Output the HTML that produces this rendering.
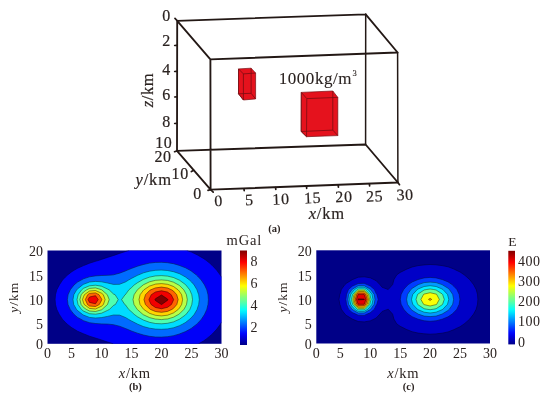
<!DOCTYPE html>
<html><head><meta charset="utf-8"><title>Figure</title>
<style>html,body{margin:0;padding:0;background:#fff}svg{display:block}</style></head>
<body>
<svg width="550" height="400" viewBox="0 0 550 400">
<rect width="550" height="400" fill="#fff"/>
<clipPath id="cpb"><rect x="47.5" y="250.5" width="174.0" height="93.30000000000001"/></clipPath>
<rect x="47.5" y="250.5" width="174.0" height="93.30000000000001" fill="#000087"/>
<g clip-path="url(#cpb)">
<path fill="#0000f9" stroke="#0000f9" stroke-width="0.3" fill-rule="evenodd" d="M101.5,340.0 107.5,342.0 113.2,343.8 113.5,343.8 119.5,343.8 125.5,343.8 131.5,343.8 137.5,343.8 143.5,343.8 149.5,343.8 155.5,343.8 161.5,343.8 167.5,343.8 173.5,343.8 179.5,343.8 185.5,343.8 191.5,343.8 197.5,343.8 198.6,343.8 203.5,341.0 206.4,338.9 209.5,336.4 212.3,334.0 215.5,330.5 216.8,329.1 220.4,324.2 221.5,322.2 221.5,319.2 221.5,314.3 221.5,309.4 221.5,304.5 221.5,299.6 221.5,294.7 221.5,289.8 221.5,284.9 221.5,280.0 221.5,277.2 220.3,275.1 216.6,270.1 215.5,268.9 212.0,265.2 209.5,263.0 206.1,260.3 203.5,258.5 198.2,255.4 197.5,255.0 191.5,252.1 186.9,250.5 185.5,250.5 179.5,250.5 173.5,250.5 167.5,250.5 161.5,250.5 155.5,250.5 149.5,250.5 143.5,250.5 137.5,250.5 131.5,250.5 129.0,250.5 125.5,251.5 119.5,253.4 113.9,255.4 113.5,255.5 107.5,257.4 101.5,259.4 99.0,260.3 95.5,261.3 89.5,263.2 84.6,265.2 83.5,265.6 77.5,268.3 74.4,270.1 71.5,271.9 67.5,275.1 65.5,276.9 62.6,280.0 59.5,284.7 59.4,284.9 56.8,289.8 55.5,294.7 55.1,299.6 55.5,304.5 56.8,309.4 59.2,314.3 59.5,314.7 62.4,319.2 65.5,322.5 67.3,324.2 71.5,327.5 74.1,329.1 77.5,331.2 83.5,333.8 84.1,334.0 89.5,336.2 95.5,338.1 98.3,338.9 101.5,340.0Z"/>
<path fill="#006bff" stroke="#006bff" stroke-width="0.3" fill-rule="evenodd" d="M143.5,335.0 149.5,336.3 155.5,337.0 161.5,337.1 167.5,336.7 173.5,335.7 179.4,334.0 179.5,333.9 185.5,331.6 190.1,329.1 191.5,328.2 196.7,324.2 197.5,323.4 201.4,319.2 203.5,316.0 204.6,314.3 206.8,309.4 208.0,304.5 208.4,299.6 208.0,294.7 206.8,289.8 204.5,284.9 203.5,283.4 201.2,280.0 197.5,276.0 196.5,275.1 191.5,271.2 189.7,270.1 185.5,267.8 179.5,265.5 178.6,265.2 173.5,263.7 167.5,262.7 161.5,262.3 155.5,262.4 149.5,263.1 143.5,264.5 140.9,265.2 137.5,266.2 131.5,268.4 127.4,270.1 125.5,270.9 119.5,273.2 113.5,274.8 111.0,275.1 107.5,275.3 101.5,275.5 95.5,275.9 89.5,276.8 83.5,278.8 81.3,280.0 77.5,282.1 74.1,284.9 71.5,288.2 70.3,289.8 68.1,294.7 67.4,299.6 68.0,304.5 70.2,309.4 71.5,311.2 73.9,314.3 77.5,317.4 80.9,319.2 83.5,320.7 89.5,322.7 95.5,323.5 101.5,323.9 107.5,324.1 108.8,324.2 113.5,324.7 119.5,326.2 125.5,328.5 126.9,329.1 131.5,331.0 137.5,333.2 140.2,334.0 143.5,335.0Z"/>
<path fill="#00dcff" stroke="#00dcff" stroke-width="0.3" fill-rule="evenodd" d="M161.5,329.3 164.8,329.1 167.5,328.9 173.5,327.8 179.5,325.7 182.5,324.2 185.5,322.5 189.7,319.2 191.5,317.5 194.3,314.3 197.1,309.4 197.5,308.0 198.7,304.5 199.3,299.6 198.7,294.7 197.5,291.4 197.0,289.8 194.1,284.9 191.5,281.9 189.5,280.0 185.5,277.0 182.1,275.1 179.5,273.7 173.5,271.7 167.5,270.5 161.9,270.1 161.5,270.1 160.7,270.1 155.5,270.3 149.5,271.2 143.5,272.8 138.1,275.1 137.5,275.3 131.5,278.4 128.6,280.0 125.5,281.9 119.5,284.3 113.5,284.4 107.5,283.0 101.5,281.8 95.5,281.4 89.5,282.0 83.5,284.3 82.6,284.9 77.5,288.9 76.7,289.8 73.8,294.7 73.0,299.6 73.7,304.5 76.5,309.4 77.5,310.5 82.3,314.3 83.5,315.1 89.5,317.4 95.5,318.0 101.5,317.6 107.5,316.4 113.5,315.0 119.5,315.1 125.5,317.5 128.3,319.2 131.5,321.0 137.5,324.1 137.7,324.2 143.5,326.6 149.5,328.2 155.5,329.1 155.5,329.1 161.5,329.3Z"/>
<path fill="#4fffb0" stroke="#4fffb0" stroke-width="0.3" fill-rule="evenodd" d="M143.5,320.1 149.5,322.3 155.5,323.5 161.5,323.8 167.5,323.3 173.5,321.9 179.5,319.2 179.5,319.2 185.5,314.9 186.1,314.3 189.9,309.4 191.5,305.3 191.8,304.5 192.5,299.6 191.8,294.7 191.5,294.0 189.7,289.8 185.8,284.9 185.5,284.6 179.5,280.2 179.1,280.0 173.5,277.5 167.5,276.1 161.5,275.6 155.5,275.9 149.5,277.1 143.5,279.3 142.2,280.0 137.5,282.7 134.3,284.9 131.5,287.6 128.9,289.8 125.5,294.5 125.1,294.7 121.6,299.6 124.8,304.5 125.5,304.9 128.7,309.4 131.5,311.8 134.1,314.3 137.5,316.8 141.8,319.2 143.5,320.1ZM83.5,311.1 89.5,313.7 95.5,314.2 101.5,313.2 107.5,310.4 109.5,309.4 113.5,305.4 115.4,304.5 118.2,299.6 115.1,294.7 113.5,294.0 109.1,289.8 107.5,289.0 101.5,286.2 95.5,285.2 89.5,285.8 83.5,288.3 81.7,289.8 78.1,294.7 77.5,297.5 77.0,299.6 77.5,301.9 78.0,304.5 81.4,309.4 83.5,311.1Z"/>
<path fill="#b8ff47" stroke="#b8ff47" stroke-width="0.3" fill-rule="evenodd" d="M161.5,319.6 164.7,319.2 167.5,319.0 173.5,317.2 178.8,314.3 179.5,313.8 183.9,309.4 185.5,306.6 186.5,304.5 187.3,299.6 186.4,294.7 185.5,292.9 183.8,289.8 179.5,285.6 178.5,284.9 173.5,282.2 167.5,280.4 162.5,280.0 161.5,279.9 160.2,280.0 155.5,280.3 149.5,281.8 143.5,284.7 143.2,284.9 137.5,289.7 137.4,289.8 134.1,294.7 133.0,299.6 134.0,304.5 137.2,309.4 137.5,309.7 142.8,314.3 143.5,314.8 149.5,317.6 155.5,319.1 157.2,319.2 161.5,319.6ZM89.5,311.0 95.5,311.5 101.5,309.8 102.1,309.4 107.5,304.5 107.5,304.4 109.2,299.6 107.5,295.2 107.3,294.7 101.7,289.8 101.5,289.7 95.5,287.9 89.5,288.4 86.7,289.8 83.5,292.0 81.2,294.7 79.9,299.6 81.1,304.5 83.5,307.4 86.3,309.4 89.5,311.0Z"/>
<path fill="#ffd500" stroke="#ffd500" stroke-width="0.3" fill-rule="evenodd" d="M155.5,315.3 161.5,315.9 167.5,315.2 169.9,314.3 173.5,312.9 178.3,309.4 179.5,307.9 181.6,304.5 182.6,299.6 181.6,294.7 179.5,291.5 178.0,289.8 173.5,286.5 169.3,284.9 167.5,284.3 161.5,283.6 155.5,284.1 153.1,284.9 149.5,286.1 143.9,289.8 143.5,290.2 140.1,294.7 139.0,299.6 140.0,304.5 143.5,309.2 143.7,309.4 149.5,313.3 152.4,314.3 155.5,315.3ZM89.5,308.4 95.5,309.0 101.5,306.2 103.4,304.5 105.1,299.6 103.3,294.7 101.5,293.2 95.5,290.5 89.5,291.0 84.4,294.7 83.5,296.7 82.5,299.6 83.5,302.8 84.2,304.5 89.5,308.4Z"/>
<path fill="#ff6300" stroke="#ff6300" stroke-width="0.3" fill-rule="evenodd" d="M155.5,311.5 161.5,312.3 167.5,311.4 171.9,309.4 173.5,308.3 176.8,304.5 178.1,299.6 176.7,294.7 173.5,291.1 171.5,289.8 167.5,288.0 161.5,287.1 155.5,287.9 150.8,289.8 149.5,290.6 145.5,294.7 144.0,299.6 145.4,304.5 149.5,308.8 150.4,309.4 155.5,311.5ZM89.5,306.0 95.5,306.5 99.3,304.5 101.5,300.4 101.8,299.6 101.5,298.8 99.0,294.7 95.5,292.9 89.5,293.4 87.7,294.7 85.3,299.6 87.5,304.5 89.5,306.0Z"/>
<path fill="#f10000" stroke="#f10000" stroke-width="0.3" fill-rule="evenodd" d="M155.5,307.5 161.5,308.7 167.5,307.3 171.4,304.5 173.5,299.9 173.6,299.6 173.5,299.3 171.2,294.7 167.5,292.1 161.5,290.8 155.5,292.0 151.3,294.7 149.5,298.2 149.0,299.6 149.5,301.2 151.1,304.5 155.5,307.5ZM89.5,302.4 95.5,303.8 98.2,299.6 95.5,295.7 89.5,297.0 88.1,299.6 89.5,302.4Z"/>
<path fill="#800000" stroke="#800000" stroke-width="0.3" fill-rule="evenodd" d="M161.5,304.5 161.6,304.5 167.5,300.3 167.8,299.6 167.5,299.0 161.5,295.0 155.5,298.7 155.0,299.6 155.5,300.6 161.4,304.5 161.5,304.5Z"/>
<path fill="none" stroke="#000" stroke-opacity="0.8" stroke-width="0.5" stroke-linejoin="round" d="M198.6,343.8 203.5,341.0 206.4,338.9 209.5,336.4 212.3,334.0 215.5,330.5 216.8,329.1 220.4,324.2 221.5,322.2M221.5,277.2 220.3,275.1 216.6,270.1 215.5,268.9 212.0,265.2 209.5,263.0 206.1,260.3 203.5,258.5 198.2,255.4 197.5,255.0 191.5,252.1 186.9,250.5M129.0,250.5 125.5,251.5 119.5,253.4 113.9,255.4 113.5,255.5 107.5,257.4 101.5,259.4 99.0,260.3 95.5,261.3 89.5,263.2 84.6,265.2 83.5,265.6 77.5,268.3 74.4,270.1 71.5,271.9 67.5,275.1 65.5,276.9 62.6,280.0 59.5,284.7 59.4,284.9 56.8,289.8 55.5,294.7 55.1,299.6 55.5,304.5 56.8,309.4 59.2,314.3 59.5,314.7 62.4,319.2 65.5,322.5 67.3,324.2 71.5,327.5 74.1,329.1 77.5,331.2 83.5,333.8 84.1,334.0 89.5,336.2 95.5,338.1 98.3,338.9 101.5,340.0 107.5,342.0 113.2,343.8M143.5,335.0 149.5,336.3 155.5,337.0 161.5,337.1 167.5,336.7 173.5,335.7 179.4,334.0 179.5,333.9 185.5,331.6 190.1,329.1 191.5,328.2 196.7,324.2 197.5,323.4 201.4,319.2 203.5,316.0 204.6,314.3 206.8,309.4 208.0,304.5 208.4,299.6 208.0,294.7 206.8,289.8 204.5,284.9 203.5,283.4 201.2,280.0 197.5,276.0 196.5,275.1 191.5,271.2 189.7,270.1 185.5,267.8 179.5,265.5 178.6,265.2 173.5,263.7 167.5,262.7 161.5,262.3 155.5,262.4 149.5,263.1 143.5,264.5 140.9,265.2 137.5,266.2 131.5,268.4 127.4,270.1 125.5,270.9 119.5,273.2 113.5,274.8 111.0,275.1 107.5,275.3 101.5,275.5 95.5,275.9 89.5,276.8 83.5,278.8 81.3,280.0 77.5,282.1 74.1,284.9 71.5,288.2 70.3,289.8 68.1,294.7 67.4,299.6 68.0,304.5 70.2,309.4 71.5,311.2 73.9,314.3 77.5,317.4 80.9,319.2 83.5,320.7 89.5,322.7 95.5,323.5 101.5,323.9 107.5,324.1 108.8,324.2 113.5,324.7 119.5,326.2 125.5,328.5 126.9,329.1 131.5,331.0 137.5,333.2 140.2,334.0 143.5,335.0ZM161.5,329.3 164.8,329.1 167.5,328.9 173.5,327.8 179.5,325.7 182.5,324.2 185.5,322.5 189.7,319.2 191.5,317.5 194.3,314.3 197.1,309.4 197.5,308.0 198.7,304.5 199.3,299.6 198.7,294.7 197.5,291.4 197.0,289.8 194.1,284.9 191.5,281.9 189.5,280.0 185.5,277.0 182.1,275.1 179.5,273.7 173.5,271.7 167.5,270.5 161.9,270.1 161.5,270.1 160.7,270.1 155.5,270.3 149.5,271.2 143.5,272.8 138.1,275.1 137.5,275.3 131.5,278.4 128.6,280.0 125.5,281.9 119.5,284.3 113.5,284.4 107.5,283.0 101.5,281.8 95.5,281.4 89.5,282.0 83.5,284.3 82.6,284.9 77.5,288.9 76.7,289.8 73.8,294.7 73.0,299.6 73.7,304.5 76.5,309.4 77.5,310.5 82.3,314.3 83.5,315.1 89.5,317.4 95.5,318.0 101.5,317.6 107.5,316.4 113.5,315.0 119.5,315.1 125.5,317.5 128.3,319.2 131.5,321.0 137.5,324.1 137.7,324.2 143.5,326.6 149.5,328.2 155.5,329.1 155.5,329.1 161.5,329.3ZM143.5,320.1 149.5,322.3 155.5,323.5 161.5,323.8 167.5,323.3 173.5,321.9 179.5,319.2 179.5,319.2 185.5,314.9 186.1,314.3 189.9,309.4 191.5,305.3 191.8,304.5 192.5,299.6 191.8,294.7 191.5,294.0 189.7,289.8 185.8,284.9 185.5,284.6 179.5,280.2 179.1,280.0 173.5,277.5 167.5,276.1 161.5,275.6 155.5,275.9 149.5,277.1 143.5,279.3 142.2,280.0 137.5,282.7 134.3,284.9 131.5,287.6 128.9,289.8 125.5,294.5 125.1,294.7 121.6,299.6 124.8,304.5 125.5,304.9 128.7,309.4 131.5,311.8 134.1,314.3 137.5,316.8 141.8,319.2 143.5,320.1ZM83.5,311.1 89.5,313.7 95.5,314.2 101.5,313.2 107.5,310.4 109.5,309.4 113.5,305.4 115.4,304.5 118.2,299.6 115.1,294.7 113.5,294.0 109.1,289.8 107.5,289.0 101.5,286.2 95.5,285.2 89.5,285.8 83.5,288.3 81.7,289.8 78.1,294.7 77.5,297.5 77.0,299.6 77.5,301.9 78.0,304.5 81.4,309.4 83.5,311.1ZM161.5,319.6 164.7,319.2 167.5,319.0 173.5,317.2 178.8,314.3 179.5,313.8 183.9,309.4 185.5,306.6 186.5,304.5 187.3,299.6 186.4,294.7 185.5,292.9 183.8,289.8 179.5,285.6 178.5,284.9 173.5,282.2 167.5,280.4 162.5,280.0 161.5,279.9 160.2,280.0 155.5,280.3 149.5,281.8 143.5,284.7 143.2,284.9 137.5,289.7 137.4,289.8 134.1,294.7 133.0,299.6 134.0,304.5 137.2,309.4 137.5,309.7 142.8,314.3 143.5,314.8 149.5,317.6 155.5,319.1 157.2,319.2 161.5,319.6ZM89.5,311.0 95.5,311.5 101.5,309.8 102.1,309.4 107.5,304.5 107.5,304.4 109.2,299.6 107.5,295.2 107.3,294.7 101.7,289.8 101.5,289.7 95.5,287.9 89.5,288.4 86.7,289.8 83.5,292.0 81.2,294.7 79.9,299.6 81.1,304.5 83.5,307.4 86.3,309.4 89.5,311.0ZM155.5,315.3 161.5,315.9 167.5,315.2 169.9,314.3 173.5,312.9 178.3,309.4 179.5,307.9 181.6,304.5 182.6,299.6 181.6,294.7 179.5,291.5 178.0,289.8 173.5,286.5 169.3,284.9 167.5,284.3 161.5,283.6 155.5,284.1 153.1,284.9 149.5,286.1 143.9,289.8 143.5,290.2 140.1,294.7 139.0,299.6 140.0,304.5 143.5,309.2 143.7,309.4 149.5,313.3 152.4,314.3 155.5,315.3ZM89.5,308.4 95.5,309.0 101.5,306.2 103.4,304.5 105.1,299.6 103.3,294.7 101.5,293.2 95.5,290.5 89.5,291.0 84.4,294.7 83.5,296.7 82.5,299.6 83.5,302.8 84.2,304.5 89.5,308.4ZM155.5,311.5 161.5,312.3 167.5,311.4 171.9,309.4 173.5,308.3 176.8,304.5 178.1,299.6 176.7,294.7 173.5,291.1 171.5,289.8 167.5,288.0 161.5,287.1 155.5,287.9 150.8,289.8 149.5,290.6 145.5,294.7 144.0,299.6 145.4,304.5 149.5,308.8 150.4,309.4 155.5,311.5ZM89.5,306.0 95.5,306.5 99.3,304.5 101.5,300.4 101.8,299.6 101.5,298.8 99.0,294.7 95.5,292.9 89.5,293.4 87.7,294.7 85.3,299.6 87.5,304.5 89.5,306.0ZM155.5,307.5 161.5,308.7 167.5,307.3 171.4,304.5 173.5,299.9 173.6,299.6 173.5,299.3 171.2,294.7 167.5,292.1 161.5,290.8 155.5,292.0 151.3,294.7 149.5,298.2 149.0,299.6 149.5,301.2 151.1,304.5 155.5,307.5ZM89.5,302.4 95.5,303.8 98.2,299.6 95.5,295.7 89.5,297.0 88.1,299.6 89.5,302.4ZM161.5,304.5 161.6,304.5 167.5,300.3 167.8,299.6 167.5,299.0 161.5,295.0 155.5,298.7 155.0,299.6 155.5,300.6 161.4,304.5 161.5,304.5Z"/>
</g>
<clipPath id="cpc"><rect x="316.3" y="250.3" width="173.7" height="93.19999999999999"/></clipPath>
<rect x="316.3" y="250.3" width="173.7" height="93.19999999999999" fill="#000087"/>
<g clip-path="url(#cpc)">
<path fill="#0000c7" stroke="#0000c7" stroke-width="0.3" fill-rule="evenodd" d="M424.1,333.8 430.1,334.2 436.1,333.9 437.2,333.7 442.1,333.2 448.1,331.9 454.1,329.6 455.6,328.8 460.1,326.7 464.2,323.9 466.0,322.4 469.8,319.0 472.0,316.1 473.6,314.1 476.2,309.2 477.5,304.3 477.9,299.4 477.5,294.4 476.2,289.5 473.6,284.6 472.0,282.6 469.8,279.7 466.0,276.3 464.2,274.8 460.1,272.0 455.6,269.9 454.1,269.1 448.1,266.8 442.1,265.6 437.2,265.0 436.1,264.8 430.1,264.5 424.1,264.9 423.5,265.0 418.1,265.6 412.1,267.0 406.1,269.4 405.2,269.9 400.2,272.4 396.8,274.8 394.2,279.1 393.9,279.7 392.6,284.6 388.2,289.5 382.2,287.3 379.9,284.6 376.2,280.7 374.2,279.7 370.2,277.8 364.2,276.8 358.2,277.2 352.2,279.7 352.2,279.7 346.2,283.4 344.9,284.6 341.3,289.5 340.3,293.4 339.8,294.4 339.0,299.4 339.8,304.3 340.3,305.3 341.3,309.2 344.9,314.1 346.2,315.3 352.2,319.0 352.2,319.0 358.2,321.5 364.2,321.9 370.2,320.9 374.2,319.0 376.2,318.0 379.9,314.1 382.2,311.4 388.2,309.2 392.6,314.1 393.9,319.0 394.2,319.6 396.8,323.9 400.2,326.3 405.2,328.8 406.1,329.3 412.1,331.7 418.1,333.1 423.5,333.7 424.1,333.8Z"/>
<path fill="#003bff" stroke="#003bff" stroke-width="0.3" fill-rule="evenodd" d="M418.1,319.2 424.1,320.8 430.1,321.3 436.1,320.8 442.1,319.2 442.7,319.0 448.1,316.8 452.1,314.1 454.1,312.2 456.9,309.2 459.2,304.3 459.9,299.4 459.2,294.4 456.9,289.5 454.1,286.5 452.1,284.6 448.1,281.9 442.7,279.7 442.1,279.5 436.1,277.9 430.1,277.4 424.1,277.9 418.1,279.5 417.6,279.7 412.1,282.0 408.3,284.6 406.1,286.7 403.7,289.5 401.1,294.4 400.3,299.4 401.1,304.3 403.7,309.2 406.1,312.0 408.3,314.1 412.1,316.7 417.6,319.0 418.1,319.2ZM358.2,315.2 364.2,315.4 367.1,314.1 370.2,312.8 374.4,309.2 376.2,305.2 376.9,304.3 378.2,299.4 376.9,294.4 376.2,293.5 374.4,289.5 370.2,285.9 367.1,284.6 364.2,283.3 358.2,283.5 355.8,284.6 352.2,286.2 348.5,289.5 346.5,294.4 346.2,297.1 345.8,299.4 346.2,301.6 346.5,304.3 348.5,309.2 352.2,312.5 355.8,314.1 358.2,315.2Z"/>
<path fill="#009cff" stroke="#009cff" stroke-width="0.3" fill-rule="evenodd" d="M424.1,316.1 430.1,316.6 436.1,316.1 442.1,314.1 442.1,314.1 448.1,310.4 449.4,309.2 452.7,304.3 453.6,299.4 452.7,294.4 449.4,289.5 448.1,288.3 442.1,284.6 442.1,284.6 436.1,282.6 430.1,282.1 424.1,282.6 418.2,284.6 418.1,284.7 412.1,288.4 410.9,289.5 407.5,294.4 406.6,299.4 407.5,304.3 410.9,309.2 412.1,310.3 418.1,314.0 418.2,314.1 424.1,316.1ZM352.2,309.4 358.2,313.0 364.2,313.0 370.2,309.6 370.7,309.2 374.2,304.3 375.0,299.4 374.2,294.4 370.7,289.5 370.2,289.1 364.2,285.7 358.2,285.7 352.2,289.3 352.0,289.5 348.6,294.4 347.9,299.4 348.6,304.3 352.0,309.2 352.2,309.4Z"/>
<path fill="#00edff" stroke="#00edff" stroke-width="0.3" fill-rule="evenodd" d="M358.2,311.4 364.2,311.4 367.9,309.2 370.2,306.6 372.0,304.3 373.0,299.4 372.0,294.4 370.2,292.1 367.9,289.5 364.2,287.3 358.2,287.3 354.6,289.5 352.2,292.3 350.7,294.4 349.6,299.4 350.7,304.3 352.2,306.4 354.6,309.2 358.2,311.4ZM418.1,309.7 424.1,312.2 430.1,313.0 436.1,312.2 442.1,309.7 442.9,309.2 447.5,304.3 448.1,302.0 448.8,299.4 448.1,296.7 447.5,294.4 442.9,289.5 442.1,289.0 436.1,286.5 430.1,285.7 424.1,286.5 418.1,289.0 417.3,289.5 412.8,294.4 412.1,296.8 411.5,299.4 412.1,301.9 412.8,304.3 417.3,309.2 418.1,309.7Z"/>
<path fill="#69ff96" stroke="#69ff96" stroke-width="0.3" fill-rule="evenodd" d="M358.2,309.8 364.2,309.8 365.3,309.2 369.9,304.3 370.2,302.8 371.1,299.4 370.2,295.9 369.9,294.4 365.3,289.5 364.2,288.9 358.2,288.9 357.2,289.5 352.6,294.4 352.2,296.2 351.4,299.4 352.2,302.5 352.6,304.3 357.2,309.2 358.2,309.8ZM430.1,309.7 433.6,309.2 436.1,308.7 442.1,304.8 442.6,304.3 444.3,299.4 442.6,294.4 442.1,293.9 436.1,290.0 433.6,289.5 430.1,289.0 426.7,289.5 424.1,290.0 418.1,294.0 417.6,294.4 416.0,299.4 417.6,304.3 418.1,304.8 424.1,308.7 426.7,309.2 430.1,309.7Z"/>
<path fill="#faff05" stroke="#faff05" stroke-width="0.3" fill-rule="evenodd" d="M358.2,308.4 364.2,308.4 368.5,304.3 369.6,299.4 368.5,294.4 364.2,290.3 358.2,290.3 354.0,294.4 352.9,299.4 354.0,304.3 358.2,308.4ZM424.1,304.6 430.1,306.0 436.1,304.6 436.7,304.3 439.3,299.4 436.7,294.4 436.1,294.1 430.1,292.7 424.1,294.1 423.6,294.4 420.9,299.4 423.6,304.3 424.1,304.6Z"/>
<path fill="#ffa800" stroke="#ffa800" stroke-width="0.3" fill-rule="evenodd" d="M358.2,307.2 364.2,307.2 367.2,304.3 368.5,299.4 367.2,294.4 364.2,291.5 358.2,291.5 355.2,294.4 353.9,299.4 355.2,304.3 358.2,307.2ZM430.1,300.4 431.7,299.4 430.1,298.3 428.5,299.4 430.1,300.4Z"/>
<path fill="#ff4c00" stroke="#ff4c00" stroke-width="0.3" fill-rule="evenodd" d="M358.2,305.7 364.2,305.6 365.7,304.3 367.2,299.4 365.7,294.4 364.2,293.1 358.2,293.0 356.7,294.4 355.3,299.4 356.7,304.3 358.2,305.7Z"/>
<path fill="#e50000" stroke="#e50000" stroke-width="0.3" fill-rule="evenodd" d="M358.2,304.3 364.2,304.3 364.2,304.3 365.9,299.4 364.2,294.4 364.2,294.4 358.2,294.4 358.1,294.4 356.5,299.4 358.1,304.3 358.2,304.3Z"/>
<path fill="#800000" stroke="#800000" stroke-width="0.3" fill-rule="evenodd" d="M358.2,299.8 364.2,299.6 364.3,299.4 364.2,299.1 358.2,298.9 358.1,299.4 358.2,299.8Z"/>
<path fill="none" stroke="#000" stroke-opacity="0.8" stroke-width="0.5" stroke-linejoin="round" d="M424.1,333.8 430.1,334.2 436.1,333.9 437.2,333.7 442.1,333.2 448.1,331.9 454.1,329.6 455.6,328.8 460.1,326.7 464.2,323.9 466.0,322.4 469.8,319.0 472.0,316.1 473.6,314.1 476.2,309.2 477.5,304.3 477.9,299.4 477.5,294.4 476.2,289.5 473.6,284.6 472.0,282.6 469.8,279.7 466.0,276.3 464.2,274.8 460.1,272.0 455.6,269.9 454.1,269.1 448.1,266.8 442.1,265.6 437.2,265.0 436.1,264.8 430.1,264.5 424.1,264.9 423.5,265.0 418.1,265.6 412.1,267.0 406.1,269.4 405.2,269.9 400.2,272.4 396.8,274.8 394.2,279.1 393.9,279.7 392.6,284.6 388.2,289.5 382.2,287.3 379.9,284.6 376.2,280.7 374.2,279.7 370.2,277.8 364.2,276.8 358.2,277.2 352.2,279.7 352.2,279.7 346.2,283.4 344.9,284.6 341.3,289.5 340.3,293.4 339.8,294.4 339.0,299.4 339.8,304.3 340.3,305.3 341.3,309.2 344.9,314.1 346.2,315.3 352.2,319.0 352.2,319.0 358.2,321.5 364.2,321.9 370.2,320.9 374.2,319.0 376.2,318.0 379.9,314.1 382.2,311.4 388.2,309.2 392.6,314.1 393.9,319.0 394.2,319.6 396.8,323.9 400.2,326.3 405.2,328.8 406.1,329.3 412.1,331.7 418.1,333.1 423.5,333.7 424.1,333.8ZM418.1,319.2 424.1,320.8 430.1,321.3 436.1,320.8 442.1,319.2 442.7,319.0 448.1,316.8 452.1,314.1 454.1,312.2 456.9,309.2 459.2,304.3 459.9,299.4 459.2,294.4 456.9,289.5 454.1,286.5 452.1,284.6 448.1,281.9 442.7,279.7 442.1,279.5 436.1,277.9 430.1,277.4 424.1,277.9 418.1,279.5 417.6,279.7 412.1,282.0 408.3,284.6 406.1,286.7 403.7,289.5 401.1,294.4 400.3,299.4 401.1,304.3 403.7,309.2 406.1,312.0 408.3,314.1 412.1,316.7 417.6,319.0 418.1,319.2ZM358.2,315.2 364.2,315.4 367.1,314.1 370.2,312.8 374.4,309.2 376.2,305.2 376.9,304.3 378.2,299.4 376.9,294.4 376.2,293.5 374.4,289.5 370.2,285.9 367.1,284.6 364.2,283.3 358.2,283.5 355.8,284.6 352.2,286.2 348.5,289.5 346.5,294.4 346.2,297.1 345.8,299.4 346.2,301.6 346.5,304.3 348.5,309.2 352.2,312.5 355.8,314.1 358.2,315.2ZM424.1,316.1 430.1,316.6 436.1,316.1 442.1,314.1 442.1,314.1 448.1,310.4 449.4,309.2 452.7,304.3 453.6,299.4 452.7,294.4 449.4,289.5 448.1,288.3 442.1,284.6 442.1,284.6 436.1,282.6 430.1,282.1 424.1,282.6 418.2,284.6 418.1,284.7 412.1,288.4 410.9,289.5 407.5,294.4 406.6,299.4 407.5,304.3 410.9,309.2 412.1,310.3 418.1,314.0 418.2,314.1 424.1,316.1ZM352.2,309.4 358.2,313.0 364.2,313.0 370.2,309.6 370.7,309.2 374.2,304.3 375.0,299.4 374.2,294.4 370.7,289.5 370.2,289.1 364.2,285.7 358.2,285.7 352.2,289.3 352.0,289.5 348.6,294.4 347.9,299.4 348.6,304.3 352.0,309.2 352.2,309.4ZM358.2,311.4 364.2,311.4 367.9,309.2 370.2,306.6 372.0,304.3 373.0,299.4 372.0,294.4 370.2,292.1 367.9,289.5 364.2,287.3 358.2,287.3 354.6,289.5 352.2,292.3 350.7,294.4 349.6,299.4 350.7,304.3 352.2,306.4 354.6,309.2 358.2,311.4ZM418.1,309.7 424.1,312.2 430.1,313.0 436.1,312.2 442.1,309.7 442.9,309.2 447.5,304.3 448.1,302.0 448.8,299.4 448.1,296.7 447.5,294.4 442.9,289.5 442.1,289.0 436.1,286.5 430.1,285.7 424.1,286.5 418.1,289.0 417.3,289.5 412.8,294.4 412.1,296.8 411.5,299.4 412.1,301.9 412.8,304.3 417.3,309.2 418.1,309.7ZM358.2,309.8 364.2,309.8 365.3,309.2 369.9,304.3 370.2,302.8 371.1,299.4 370.2,295.9 369.9,294.4 365.3,289.5 364.2,288.9 358.2,288.9 357.2,289.5 352.6,294.4 352.2,296.2 351.4,299.4 352.2,302.5 352.6,304.3 357.2,309.2 358.2,309.8ZM430.1,309.7 433.6,309.2 436.1,308.7 442.1,304.8 442.6,304.3 444.3,299.4 442.6,294.4 442.1,293.9 436.1,290.0 433.6,289.5 430.1,289.0 426.7,289.5 424.1,290.0 418.1,294.0 417.6,294.4 416.0,299.4 417.6,304.3 418.1,304.8 424.1,308.7 426.7,309.2 430.1,309.7ZM358.2,308.4 364.2,308.4 368.5,304.3 369.6,299.4 368.5,294.4 364.2,290.3 358.2,290.3 354.0,294.4 352.9,299.4 354.0,304.3 358.2,308.4ZM424.1,304.6 430.1,306.0 436.1,304.6 436.7,304.3 439.3,299.4 436.7,294.4 436.1,294.1 430.1,292.7 424.1,294.1 423.6,294.4 420.9,299.4 423.6,304.3 424.1,304.6ZM358.2,307.2 364.2,307.2 367.2,304.3 368.5,299.4 367.2,294.4 364.2,291.5 358.2,291.5 355.2,294.4 353.9,299.4 355.2,304.3 358.2,307.2ZM430.1,300.4 431.7,299.4 430.1,298.3 428.5,299.4 430.1,300.4ZM358.2,305.7 364.2,305.6 365.7,304.3 367.2,299.4 365.7,294.4 364.2,293.1 358.2,293.0 356.7,294.4 355.3,299.4 356.7,304.3 358.2,305.7ZM358.2,304.3 364.2,304.3 364.2,304.3 365.9,299.4 364.2,294.4 364.2,294.4 358.2,294.4 358.1,294.4 356.5,299.4 358.1,304.3 358.2,304.3ZM358.2,299.8 364.2,299.6 364.3,299.4 364.2,299.1 358.2,298.9 358.1,299.4 358.2,299.8Z"/>
</g>
<linearGradient id="gb" x1="0" y1="0" x2="0" y2="1"><stop offset="0.0000" stop-color="#800000"/><stop offset="0.0312" stop-color="#9f0000"/><stop offset="0.0625" stop-color="#bf0000"/><stop offset="0.0938" stop-color="#df0000"/><stop offset="0.1250" stop-color="#ff0000"/><stop offset="0.1562" stop-color="#ff2000"/><stop offset="0.1875" stop-color="#ff4000"/><stop offset="0.2188" stop-color="#ff6000"/><stop offset="0.2500" stop-color="#ff8000"/><stop offset="0.2812" stop-color="#ff9f00"/><stop offset="0.3125" stop-color="#ffbf00"/><stop offset="0.3438" stop-color="#ffdf00"/><stop offset="0.3750" stop-color="#ffff00"/><stop offset="0.4062" stop-color="#dfff20"/><stop offset="0.4375" stop-color="#bfff40"/><stop offset="0.4688" stop-color="#9fff60"/><stop offset="0.5000" stop-color="#80ff80"/><stop offset="0.5312" stop-color="#68ff97"/><stop offset="0.5625" stop-color="#48ffb7"/><stop offset="0.5938" stop-color="#28ffd7"/><stop offset="0.6250" stop-color="#08fff7"/><stop offset="0.6562" stop-color="#00e7ff"/><stop offset="0.6875" stop-color="#00c7ff"/><stop offset="0.7188" stop-color="#00a7ff"/><stop offset="0.7500" stop-color="#0087ff"/><stop offset="0.7812" stop-color="#0068ff"/><stop offset="0.8125" stop-color="#0048ff"/><stop offset="0.8438" stop-color="#0028ff"/><stop offset="0.8750" stop-color="#0008ff"/><stop offset="0.9062" stop-color="#0000e7"/><stop offset="0.9375" stop-color="#0000c7"/><stop offset="0.9688" stop-color="#0000a7"/><stop offset="1.0000" stop-color="#000087"/></linearGradient><rect x="240" y="250.5" width="7" height="94.5" fill="url(#gb)"/>
<linearGradient id="gc" x1="0" y1="0" x2="0" y2="1"><stop offset="0.0000" stop-color="#800000"/><stop offset="0.0312" stop-color="#9f0000"/><stop offset="0.0625" stop-color="#bf0000"/><stop offset="0.0938" stop-color="#df0000"/><stop offset="0.1250" stop-color="#ff0000"/><stop offset="0.1562" stop-color="#ff2000"/><stop offset="0.1875" stop-color="#ff4000"/><stop offset="0.2188" stop-color="#ff6000"/><stop offset="0.2500" stop-color="#ff8000"/><stop offset="0.2812" stop-color="#ff9f00"/><stop offset="0.3125" stop-color="#ffbf00"/><stop offset="0.3438" stop-color="#ffdf00"/><stop offset="0.3750" stop-color="#ffff00"/><stop offset="0.4062" stop-color="#dfff20"/><stop offset="0.4375" stop-color="#bfff40"/><stop offset="0.4688" stop-color="#9fff60"/><stop offset="0.5000" stop-color="#80ff80"/><stop offset="0.5312" stop-color="#68ff97"/><stop offset="0.5625" stop-color="#48ffb7"/><stop offset="0.5938" stop-color="#28ffd7"/><stop offset="0.6250" stop-color="#08fff7"/><stop offset="0.6562" stop-color="#00e7ff"/><stop offset="0.6875" stop-color="#00c7ff"/><stop offset="0.7188" stop-color="#00a7ff"/><stop offset="0.7500" stop-color="#0087ff"/><stop offset="0.7812" stop-color="#0068ff"/><stop offset="0.8125" stop-color="#0048ff"/><stop offset="0.8438" stop-color="#0028ff"/><stop offset="0.8750" stop-color="#0008ff"/><stop offset="0.9062" stop-color="#0000e7"/><stop offset="0.9375" stop-color="#0000c7"/><stop offset="0.9688" stop-color="#0000a7"/><stop offset="1.0000" stop-color="#000087"/></linearGradient><rect x="508.3" y="250.8" width="6.699999999999989" height="93.59999999999997" fill="url(#gc)"/>
<g fill="#2b2321" font-family="'Liberation Serif', serif"><text x="47.5" y="357.7" font-size="14" text-anchor="middle" >0</text>
<text x="71.5" y="357.7" font-size="14" text-anchor="middle" >5</text>
<text x="101.5" y="357.7" font-size="14" text-anchor="middle" >10</text>
<text x="131.5" y="357.7" font-size="14" text-anchor="middle" >15</text>
<text x="161.5" y="357.7" font-size="14" text-anchor="middle" >20</text>
<text x="191.5" y="357.7" font-size="14" text-anchor="middle" >25</text>
<text x="221.5" y="357.7" font-size="14" text-anchor="middle" >30</text>
<text x="43.0" y="255.8" font-size="14" text-anchor="end" >20</text>
<text x="43.0" y="280.9" font-size="14" text-anchor="end" >15</text>
<text x="43.0" y="304.9" font-size="14" text-anchor="end" >10</text>
<text x="43.0" y="329.3" font-size="14" text-anchor="end" >5</text>
<text x="43.0" y="348.7" font-size="14" text-anchor="end" >0</text>
<text x="134.7" y="377.7" font-size="14.5" text-anchor="middle" letter-spacing="0.75"><tspan font-style="italic">x</tspan>/km</text>
<text transform="translate(17.8,297.15) rotate(-90)" font-size="13.5" text-anchor="middle" letter-spacing="1.0"><tspan font-style="italic">y</tspan>/km</text>
<text x="316.3" y="357.7" font-size="14" text-anchor="middle" >0</text>
<text x="340.3" y="357.7" font-size="14" text-anchor="middle" >5</text>
<text x="370.2" y="357.7" font-size="14" text-anchor="middle" >10</text>
<text x="400.2" y="357.7" font-size="14" text-anchor="middle" >15</text>
<text x="430.1" y="357.7" font-size="14" text-anchor="middle" >20</text>
<text x="460.1" y="357.7" font-size="14" text-anchor="middle" >25</text>
<text x="490.0" y="357.7" font-size="14" text-anchor="middle" >30</text>
<text x="311.8" y="255.8" font-size="14" text-anchor="end" >20</text>
<text x="311.8" y="280.9" font-size="14" text-anchor="end" >15</text>
<text x="311.8" y="304.9" font-size="14" text-anchor="end" >10</text>
<text x="311.8" y="329.3" font-size="14" text-anchor="end" >5</text>
<text x="311.8" y="348.7" font-size="14" text-anchor="end" >0</text>
<text x="403.3" y="377.7" font-size="14.5" text-anchor="middle" letter-spacing="0.75"><tspan font-style="italic">x</tspan>/km</text>
<text transform="translate(286.6,296.9) rotate(-90)" font-size="13.5" text-anchor="middle" letter-spacing="1.0"><tspan font-style="italic">y</tspan>/km</text>
<text x="250.5" y="265.5" font-size="14" text-anchor="start" >8</text>
<text x="250.5" y="288.0" font-size="14" text-anchor="start" >6</text>
<text x="250.5" y="310.0" font-size="14" text-anchor="start" >4</text>
<text x="250.5" y="331.7" font-size="14" text-anchor="start" >2</text>
<text x="244.3" y="244.8" font-size="14.5" text-anchor="middle" letter-spacing="0.8">mGal</text>
<text x="518" y="265.7" font-size="14" text-anchor="start" letter-spacing="0.5">400</text>
<text x="518" y="285.9" font-size="14" text-anchor="start" letter-spacing="0.5">300</text>
<text x="518" y="306.0" font-size="14" text-anchor="start" letter-spacing="0.5">200</text>
<text x="518" y="326.2" font-size="14" text-anchor="start" letter-spacing="0.5">100</text>
<text x="518" y="346.5" font-size="14" text-anchor="start" letter-spacing="0.5">0</text>
<text x="512.3" y="246.3" font-size="13.5" text-anchor="middle" >E</text>
<text x="274.3" y="232.0" font-size="10.5" text-anchor="middle" font-weight="bold">(a)</text>
<text x="135.4" y="390.3" font-size="10.5" text-anchor="middle" font-weight="bold">(b)</text>
<text x="408.6" y="390.2" font-size="10.5" text-anchor="middle" font-weight="bold">(c)</text></g>
<path fill="none" stroke="#231815" stroke-width="1.85" stroke-linecap="round" stroke-linejoin="round" d="M177.2,20.8L365.7,14.3M210.4,59.4L397.6,52.5M177.2,20.8L210.4,59.4M365.7,14.3L397.6,52.5M177.0,150.9L365.6,144.5M210.6,189.7L397.9,182.5M177.0,150.9L210.6,189.7M365.6,144.5L397.9,182.5M177.2,20.8L177.0,150.9M210.4,59.4L210.6,189.7"/><path fill="none" stroke="#231815" stroke-width="1.5" stroke-linecap="round" stroke-linejoin="round" d="M365.7,14.3L365.6,144.5M397.6,52.5L397.9,182.5"/><path fill="none" stroke="#231815" stroke-width="1.7" stroke-linecap="round" d="M177.2,20.8l-2.2,-2.4M176.6,45.3l-1.9,0.2M176.6,71.3l-1.9,0.2M176.6,96.8l-1.9,0.2M176.6,123.3l-1.9,0.2M210.6,189.7l2.6,2.4M397.9,182.5l1.6,2.2M244.0,188.8l0.2,1.9M275.6,187.6l0.2,1.9M306.5,186.4l0.2,1.9M338.2,185.2l0.2,1.9M369.4,184.0l0.2,1.9M193.8,170.3l-2.4,1.2M210.6,189.7l-2.6,0.6M177,150.9l-2.4,0.8"/>
<polygon points="238.5,68.9 251.1,68.2 255.6,73.0 255.6,98.9 243.4,100.0 238.5,93.8" fill="#e5121d" stroke="#7a0d12" stroke-width="0.7" stroke-linejoin="round"/><path fill="none" stroke="#7a0d12" stroke-width="0.8" d="M238.5,68.9L243.4,73.9M243.4,73.9L255.6,73.0M243.4,73.9L243.4,100.0M251.1,68.2L251.1,93.3M251.1,93.3L238.5,93.8M251.1,93.3L255.6,98.9M238.5,68.9L238.5,93.8M238.5,93.8L243.4,100.0"/>
<polygon points="301.3,92.4 332.8,91.0 337.8,97.4 337.8,135.6 306.5,136.7 301.2,131.5" fill="#e5121d" stroke="#7a0d12" stroke-width="0.7" stroke-linejoin="round"/><path fill="none" stroke="#7a0d12" stroke-width="0.8" d="M301.3,92.4L306.8,98.6M306.8,98.6L337.8,97.4M306.8,98.6L306.5,136.7M332.8,91.0L332.8,130.1M332.8,130.1L301.2,131.5M332.8,130.1L337.8,135.6M301.3,92.4L301.2,131.5M301.2,131.5L306.5,136.7"/>
<g fill="#2b2321" stroke="#2b2321" stroke-width="0.2" font-family="'Liberation Serif', serif"><text x="170.2" y="20.6" font-size="16" text-anchor="end" >0</text>
<text x="170.2" y="45.8" font-size="16" text-anchor="end" >2</text>
<text x="170.2" y="75.0" font-size="16" text-anchor="end" >4</text>
<text x="170.2" y="100.2" font-size="16" text-anchor="end" >6</text>
<text x="170.2" y="126.8" font-size="16" text-anchor="end" >8</text>
<text x="172.4" y="147.5" font-size="16" text-anchor="end" letter-spacing="0.6">10</text>
<text x="171.6" y="161.6" font-size="16" text-anchor="end" letter-spacing="0.6">20</text>
<text x="188.8" y="179" font-size="16" text-anchor="end" letter-spacing="0.6">10</text>
<text x="201.3" y="199.2" font-size="16" text-anchor="end" >0</text>
<text transform="translate(152.6,90) rotate(-90)" font-size="16.5" text-anchor="middle" letter-spacing="0.6"><tspan font-style="italic">z</tspan>/km</text>
<text x="135.6" y="184.7" font-size="16.5" text-anchor="start" letter-spacing="0.8"><tspan font-style="italic">y</tspan>/km</text>
<text x="308.7" y="219.3" font-size="16.5" text-anchor="start" letter-spacing="0.8"><tspan font-style="italic">x</tspan>/km</text>
<text transform="translate(218.7,206.0) rotate(-2.2)" font-size="16" text-anchor="middle" letter-spacing="0.6">0</text>
<text transform="translate(249.6,205.2) rotate(-2.2)" font-size="16" text-anchor="middle" letter-spacing="0.6">5</text>
<text transform="translate(281.2,204.3) rotate(-2.2)" font-size="16" text-anchor="middle" letter-spacing="0.6">10</text>
<text transform="translate(312.8,203.1) rotate(-2.2)" font-size="16" text-anchor="middle" letter-spacing="0.6">15</text>
<text transform="translate(344.2,202.0) rotate(-2.2)" font-size="16" text-anchor="middle" letter-spacing="0.6">20</text>
<text transform="translate(374.8,201.4) rotate(-2.2)" font-size="16" text-anchor="middle" letter-spacing="0.6">25</text>
<text transform="translate(405.3,199.9) rotate(-2.2)" font-size="16" text-anchor="middle" letter-spacing="0.6">30</text>
<text x="278.7" y="84" font-size="17" text-anchor="start" letter-spacing="0.55" stroke-width="0.1">1000kg/m<tspan font-size="8.5" dy="-8" dx="0.5">3</tspan></text></g>
</svg>
</body></html>
